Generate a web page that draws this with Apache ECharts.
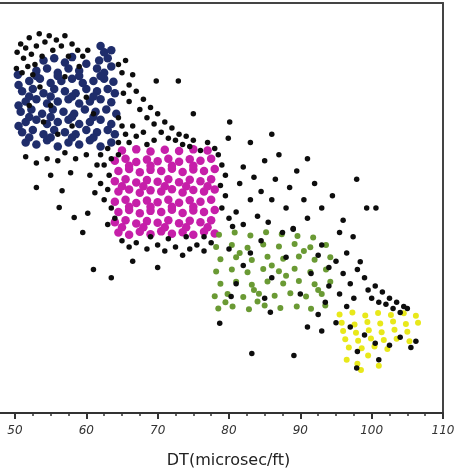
<!DOCTYPE html>
<html>
<head>
<meta charset="utf-8">
<script src="https://cdn.jsdelivr.net/npm/echarts@6/dist/echarts.min.js"></script>
<style>html,body{margin:0;background:#fff}#c{width:474px;height:474px}</style>
</head>
<body>
<div id="c"></div>
<script>
// x = DT (microsec/ft), y = unlabelled vertical axis (0..100, top of frame = 100)
const xLabels = [50, 60, 70, 80, 90, 100, 110];
const xMinorTicks = [52.5, 55, 57.5, 62.5, 65, 67.5, 72.5, 75, 77.5, 82.5, 85, 87.5, 92.5, 95, 97.5, 102.5, 105, 107.5];

const bluePts = [
  [51.5,66],[53,65.5],[54.5,66.5],[56,65],[57.5,66],[59,65.5],[60.5,66.5],[62,65],[63.5,66],
  [51,68.5],[52.5,69],[54,68],[55.5,69],[57,68.5],[58.5,68],[60,69],[61.5,68.5],[63,69],[64,68],
  [51.5,71],[53,71.5],[54.5,70.5],[56,71],[57.5,71.5],[59,70.5],[60.5,71],[62,71.5],[63.5,70.5],
  [50.8,73.5],[52.3,74],[53.8,73],[55.3,74],[56.8,73.5],[58.3,73],[59.8,74],[61.3,73.5],[62.8,74],[64.2,73],
  [51.5,76],[53,76.5],[54.5,75.5],[56,76],[57.5,76.5],[59,75.5],[60.5,76],[62,76.5],[63.5,75.8],
  [51,78.5],[52.5,79],[54,78],[55.5,79],[57,78.5],[58.5,78],[60,79],[61.5,78.5],[63,79],[64,78],
  [52,81],[53.5,81.5],[55,80.5],[56.5,81],[58,81.5],[59.5,80.5],[61,81],[62.5,81.5],[63.8,80.8],
  [53,83.5],[54.5,84],[56,83],[57.5,84],[59,83.5],[61.5,84],[62.5,83],[63.5,84.5],
  [54,86],[55.5,86.5],[57,85.5],[61.8,86],[63,86.5],[62.5,88],[63.5,88.5],[62,89.5],
  [52,67.2],[55,67.2],[58,67.2],[61,67.2],[52,72.2],[55,72.2],[58,72.2],[61,72.2],
  [52,77.2],[55,77.2],[58,77.2],[61,77.2],[53,82.2],[56,82.2],[59,82.2],[62,82.2],
  [50.5,70],[50.5,75],[50.5,80],[50.4,82.5],[58,86.8],[60,85.2]
];

const magentaPts = [
  [64.5,44],[66,43.5],[67.5,44.2],[69,43.6],[70.5,44.3],[72,43.7],[73.5,44.1],[75,43.5],[76.5,44.2],[78,43.8],
  [64,46.5],[65.5,47],[67,46.2],[68.5,46.8],[70,46.4],[71.5,47],[73,46.3],[74.5,46.9],[76,46.5],[77.5,47],
  [64.5,49],[66,49.5],[67.5,48.7],[69,49.3],[70.5,49],[72,49.6],[73.5,48.8],[75,49.4],[76.5,49],[78,49.5],
  [64,51.5],[65.5,52],[67,51.2],[68.5,51.8],[70,51.4],[71.5,52],[73,51.3],[74.5,51.9],[76,51.5],[77.5,52],
  [64.5,54],[66,54.5],[67.5,53.7],[69,54.3],[70.5,54],[72,54.6],[73.5,53.8],[75,54.4],[76.5,54],[78,54.5],
  [64,56.5],[65.5,57],[67,56.2],[68.5,56.8],[70,56.4],[71.5,57],[73,56.3],[74.5,56.9],[76,56.5],[77.5,57],
  [64.5,59],[66,59.5],[67.5,58.7],[69,59.3],[70.5,59],[72,59.6],[73.5,58.8],[75,59.4],[76.5,59],[78,59.5],
  [64,61.5],[65.5,62],[67,61.2],[68.5,61.8],[70,61.4],[71.5,62],[73,61.3],[74.5,61.9],[76,61.5],[77.5,62],
  [65,64],[67,64.3],[69,63.8],[71,64.2],[73,63.9],[75,64.3],[77,64],
  [65,45.3],[68,45.3],[71,45.3],[74,45.3],[77,45.3],[66,50.3],[69,50.3],[72,50.3],[75,50.3],
  [65,55.3],[68,55.3],[71,55.3],[74,55.3],[77,55.3],[66,60.3],[69,60.3],[72,60.3],[75,60.3]
];

const greenPts = [
  [78.5,25.5],[80.5,26],[82.8,25.3],[85,26.2],[87.2,25.6],[89.5,26],[91.5,25.4],[93.5,26.2],
  [78,28.5],[79.8,29],[82,28.3],[84.2,29.1],[86.4,28.6],[88.6,29.2],[90.8,28.4],[93,29],
  [78.8,31.5],[81,32],[83.2,31.3],[85.4,32.1],[87.6,31.6],[89.8,32.2],[92,31.4],[94.2,32],
  [78.2,34.5],[80.4,35],[82.6,34.3],[84.8,35.1],[87,34.6],[89.2,35.2],[91.4,34.4],[93.6,35],
  [78.8,37.5],[81,38],[83.2,37.3],[85.4,38.1],[87.6,37.6],[89.8,38.2],[92,37.4],[94.2,38],
  [78.2,40.5],[80.4,41],[82.6,40.3],[84.8,41.1],[87,40.6],[89.2,41.2],[91.4,40.4],[93.6,41],
  [78.6,43.5],[80.8,44],[83,43.3],[85.2,44.1],[87.4,43.6],[89.6,43.2],[91.8,42.8],
  [79.5,27],[83.5,30],[86,36],[88,33.5],[81.5,39],[90.5,39.5],[84,27.2],[92.5,30]
];

const yellowPts = [
  [95.5,24],[97.3,24.5],[99.1,23.8],[100.9,24.4],[102.7,23.9],[104.5,24.3],[106.2,23.7],
  [95.8,22],[97.6,21.6],[99.4,22.2],[101.2,21.8],[103,22.3],[104.8,21.7],[106.5,22],
  [96,20],[97.8,19.6],[99.6,20.2],[101.4,19.7],[103.2,20.3],[105,19.8],
  [96.3,18],[98.1,17.6],[99.9,18.2],[101.7,17.8],[103.5,18.1],[105.3,17.5],
  [96.8,16],[98.6,15.8],[100.4,16.2],[102.2,15.6],
  [96.5,13],[98,12],[99.5,14],[101,11.5],[98.5,10.5]
];

const blackPts = [
  [50.3,88],[50.8,90],[51.2,86.5],[51.5,89],[52,91.5],[52.3,87.5],[52.8,85],[53,89.5],[53.4,92.5],[53.8,87],
  [54.2,90.5],[54.8,92],[55.3,88.5],[55.8,91],[56.5,89.5],[57,92],[57.5,87],[58,90],[58.8,88.5],[59.5,87],
  [60.2,88.5],[50.2,84],[51,83],[51.8,84.5],[52.5,82.5],
  [53.5,79.5],[55,75],[57,82],[58,70],[60,77],[56,68],[54,71],[59,84.5],[52,75],[61,73],
  [64.5,85],[65,83],[65.5,86],[66,80],[66.5,82.5],[65.2,78],[66,76],[67,78.5],[67.5,74],[68,76.5],
  [68.5,72],[69,74.5],[69.5,70.5],[70,73],[70.5,68.5],[71,71],[71.5,67],[72,69.5],[72.5,66.5],[73,68],
  [73.5,65.5],[74,67.5],[74.5,65],[75,66.5],[76,64],[77,66],[78,64.5],[64.5,72],[65,70],[65.5,68],
  [66,66],[66.5,70],[67,67.5],[68,68.5],[68.5,65.5],[69.5,66.5],[64.5,66],[63,64.5],[62,63],[63.5,62],
  [64.5,63],[62.5,60.5],[63.2,58],[62,56],[63,54.5],[62.5,52],[63.5,50],[64,47.5],[63,46],
  [51.5,62.5],[53,61],[54.5,62],[56,61.5],[57,63.5],[58.5,62],[60,63],[55,58],[57.8,58.6],[56.6,54.2],
  [56.2,50.1],[58.3,47.7],[60.2,48.7],[61.2,53.7],[60.5,58],[53,55],[59.5,44],[61.5,60.5],
  [65,42],[66,40.5],[67,41.5],[68.5,40],[70,41],[71,39.5],[72.5,40.5],[73.5,38.5],[74.5,40],[75.5,41],
  [76.5,39.5],[77.5,41.5],[69,43],[71.5,42.5],[74,43],[76.5,43],[66.5,37],[70,35.5],[63.5,33],[61,35],
  [78.5,63],[79,60.5],[79.5,58],[78.8,55.5],[79.5,53],[79,50],[80,47.5],[81,49],[80.5,45.5],[82,46],
  [81.5,56],[82,60],[83,52],[83.5,57.5],[84,48],[84.5,54],[85,61.5],[85.5,46.5],[86,52],[86.5,57],
  [87,63],[88,50],[88.5,55],[89,45],[89.5,59],[90.5,52],[91,47.5],[92,56],[93,50],[94.5,53],
  [96,47],[79.9,67],[80.1,71],[75,73],[72.9,81],[69.8,81],[83,66],[86,68],[91,62],[97.9,57],
  [99.3,50],[100.6,50],[97.4,43],[89,44.8],[95.5,44],
  [80,40],[82,36],[84.5,42],[86,33],[88,38],[90,29],[91.5,34],[93,41],[85,28],[81,31.5],
  [87.5,44],[92.5,38.5],[94,35.5],[83,39],
  [95,37],[96,34],[96.5,39],[97,31.5],[98,35],[98.4,36.9],[99,33],[99.5,30],[100,28],[100.5,31],
  [101,27],[101.5,29.5],[102,26.5],[102.5,28],[103,25.5],[103.5,27],[104,24.5],[104.5,26],[105,25.5],[95.5,29],
  [96.5,26],[97.5,28],[94,31],[93.5,27],[92.5,24],[95,22],[97,21],[99,19],[100.5,17],[102.5,16.5],
  [104,18.5],[105.5,16],[106.2,17.5],[98,15],[101,13],[97.9,11],[78.7,21.9],[83.2,14.5],[89.1,14],[80.3,28.4],
  [85.8,24.6],[91,21],[93,20]
];

const chart = echarts.init(document.getElementById('c'), null, { renderer: 'canvas' });

const X_MIN = 47.9;
const frameLine = { lineStyle: { color: '#444', width: 2 } };

function dots(data, color, size, z) {
  return { type: 'scatter', data, symbolSize: size, itemStyle: { color, opacity: 1 }, z, silent: true };
}

chart.setOption({
  backgroundColor: '#fff',
  animation: false,
  grid: { left: 0, right: 31, top: 3, bottom: 56 },
  xAxis: [
    {
      type: 'value', min: X_MIN, max: 110, position: 'bottom',
      axisLine: { lineStyle: { color: '#333', width: 2 } },
      splitLine: { show: false },
      name: 'DT(microsec/ft)', nameLocation: 'middle', nameGap: 40,
      nameTextStyle: { color: '#222', fontSize: 16, fontFamily: 'Comic Sans MS, DejaVu Sans', padding: [0, 0, 0, 14] },
      axisTick: { length: 6, lineStyle: { color: '#333', width: 2 }, customValues: xLabels },
      axisLabel: { color: '#333', fontSize: 12, fontStyle: 'italic', margin: 12, fontFamily: 'Comic Sans MS, DejaVu Sans', customValues: xLabels }
    },
    {
      type: 'value', min: X_MIN, max: 110, position: 'bottom',
      axisLine: { show: false }, splitLine: { show: false },
      axisTick: { length: 3, lineStyle: { color: '#333', width: 1.5 }, customValues: xMinorTicks },
      axisLabel: { show: false, customValues: xMinorTicks }
    },
    {
      type: 'value', min: X_MIN, max: 110, position: 'top',
      axisLine: frameLine, axisTick: { show: false }, axisLabel: { show: false }, splitLine: { show: false }
    }
  ],
  yAxis: {
    type: 'value', min: 0, max: 100, position: 'right',
    axisLine: { show: true, lineStyle: { color: '#444', width: 2 } },
    axisTick: { show: false }, axisLabel: { show: false }, splitLine: { show: false }
  },
  series: [
    dots(bluePts, '#1f2d6b', 8.5, 2),
    dots(magentaPts, '#c61fa9', 8.5, 2),
    dots(greenPts, '#6a9a34', 6, 2),
    dots(yellowPts, '#e8e81a', 6, 2),
    dots(blackPts, '#0d0d0d', 5.5, 3)
  ]
});
</script>
</body>
</html>
